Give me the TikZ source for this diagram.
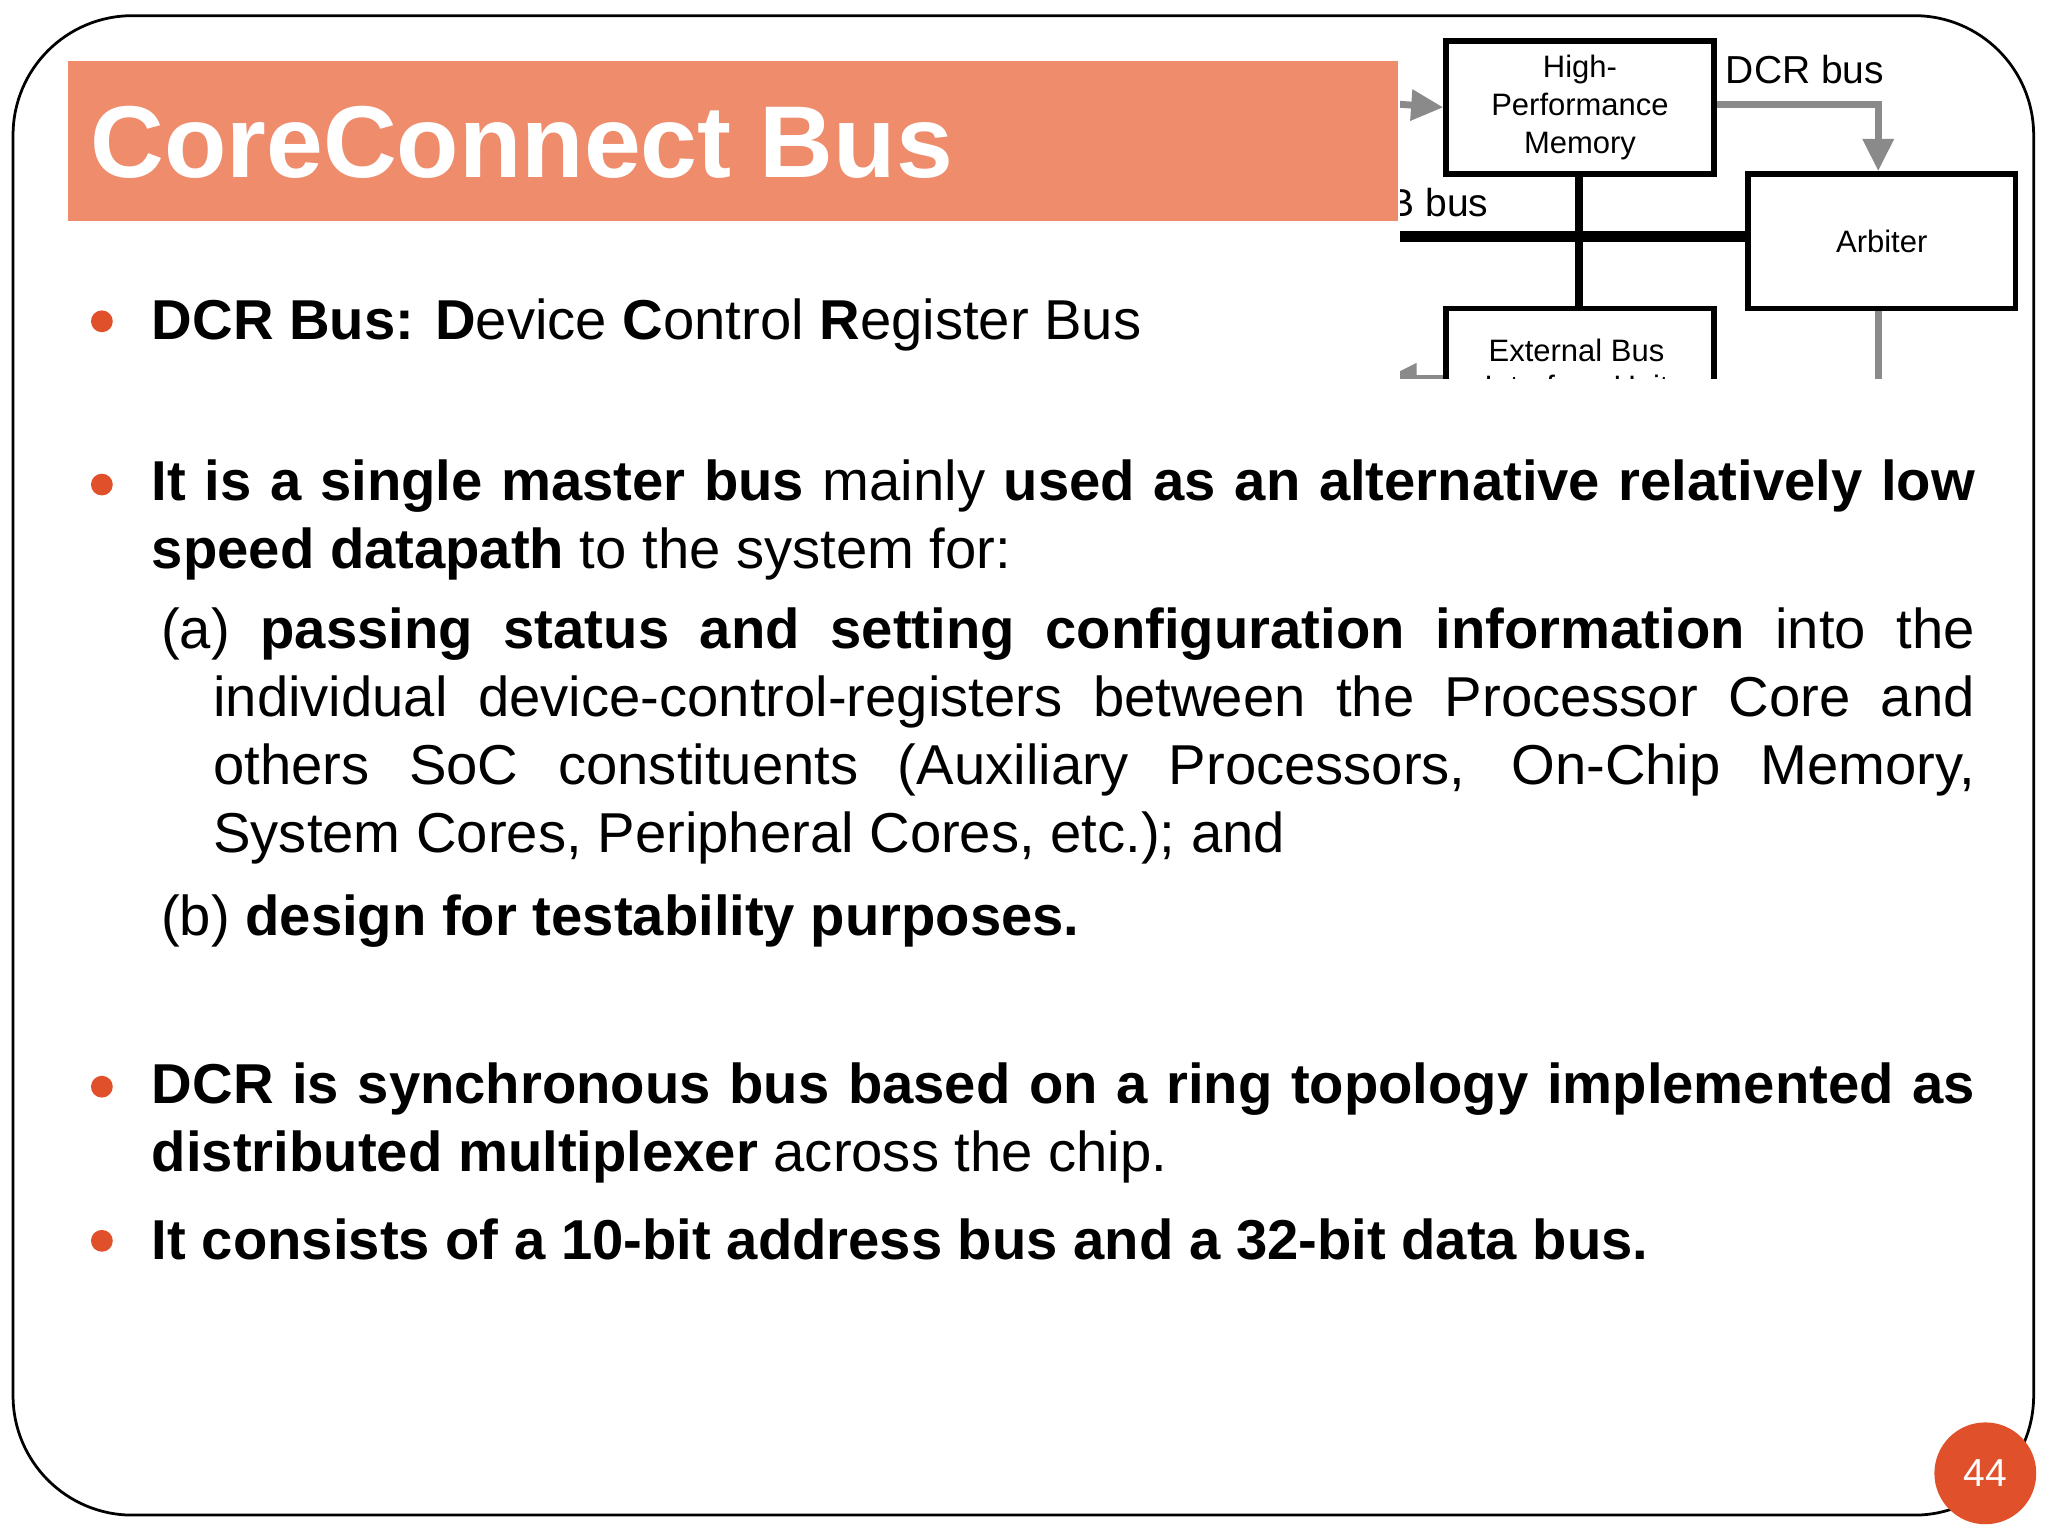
\documentclass[tikz,border=0pt]{standalone}
\usepackage{fontspec}
\usetikzlibrary{arrows.meta}
\setmainfont{Liberation Sans}
\definecolor{ttl}{HTML}{EE8C6C}
\definecolor{bul}{HTML}{E0502A}
\definecolor{gr}{HTML}{8A8A8A}
\tikzset{
  para/.style={anchor=north west,inner sep=0pt,align=justify,font=\fontsize{24.5}{29.6}\selectfont},
  blt/.style={fill=bul,circle,inner sep=0pt,minimum size=9.5pt},
  dbox/.style={draw=black,line width=2.5pt,inner sep=0pt,align=center,font=\fontsize{13.5}{16.5}\selectfont},
}
\begin{document}
\hyphenpenalty=10000 \exhyphenpenalty=10000
\begin{tikzpicture}[x=0.02cm,y=-0.02cm]
\useasboundingbox (0,0) rectangle (1568,1176);
\fill[white] (0,0) rectangle (1568,1176);
\draw[line width=1.2pt,rounded corners=52pt] (10,12) rectangle (1557,1160);
% diagram
\begin{scope}
\clip (1072,25) rectangle (1548,290);
\node[dbox,minimum width=4.1cm,minimum height=2.04cm,anchor=north west] (hpm) at (1105,29) {High-\\Performance\\Memory};
\node[dbox,minimum width=4.1cm,minimum height=2.06cm,anchor=north west] (arb) at (1336,131) {Arbiter};
\node[dbox,minimum width=4.1cm,minimum height=2.6cm,anchor=north west,align=center] (ext) at (1105,234) {};
\node[font=\fontsize{13.5}{16.5}\selectfont,anchor=base] (extt) at (1207,277) {External Bus};
\node[font=\fontsize{13.5}{16.5}\selectfont,anchor=base] (extt2) at (1207,304) {Interface Unit};
\node[font=\fontsize{17}{20}\selectfont,anchor=base west,inner sep=0pt] (dcr) at (1321,64) {DCR bus};
\node[font=\fontsize{17}{20}\selectfont,anchor=base east,inner sep=0pt] (plb) at (1140,166) {PLB bus};
\coordinate (l1) at (1060,181);
\coordinate (c1) at (1209,181);
\draw[line width=4.5pt] (l1) -- (arb.west|-l1);
\draw[line width=3.5pt] (hpm.south-|c1) -- (ext.north-|c1);
\coordinate (ga) at (1060,79);
\draw[gr,line width=3pt,-{Triangle[length=14pt,width=13pt]}] (ga) -- (hpm.west);
\coordinate (g1) at (1438,80);
\draw[gr,line width=3pt,-{Triangle[length=14pt,width=13pt]}] (hpm.east|-g1) -- (g1) -- (arb.north-|g1);
\coordinate (g2) at (1438,300);
\draw[gr,line width=3pt] (arb.south-|g2) -- (g2);
\coordinate (g3) at (1105,290);
\coordinate (g4) at (1060,290);
\draw[gr,line width=3pt,-{Triangle[length=14pt,width=13pt]}] (g3) -- (g4);
\end{scope}
% title
\fill[ttl] (52,47) rectangle (1070,169);
\node[anchor=base west,inner sep=0pt,text=white,font=\fontsize{44.5}{50}\selectfont\bfseries] (title) at (69,136) {CoreConnect Bus};
% bullets
\node[blt] (b1) at (78,246) {};
\node[para,anchor=base west,align=left] (p1) at (116,260) {\textbf{DCR Bus: D}evice \textbf{C}ontrol \textbf{R}egister Bus};
\node[blt] (b2) at (78,371) {};
\node[para,text width=27.92cm] (p2) at (116,352) {\textbf{It is a single master bus} mainly \textbf{used as an alternative relatively low speed datapath} to the system for:};
\node[para,text width=27.78cm] (pa) at (123,465) {\hangindent=0.8cm\hangafter=1 (a) \textbf{passing status and setting configuration information} into the individual device-control-registers between the Processor Core and others SoC constituents (Auxiliary Processors, On-Chip Memory, System Cores, Peripheral Cores, etc.); and\par};
\node[para,anchor=base west,align=left] (pb) at (123,716) {(b) \textbf{design for testability purposes.}};
\node[blt] (b3) at (78,832) {};
\node[para,text width=27.92cm] (p3) at (116,813) {\textbf{DCR is synchronous bus based on a ring topology implemented as distributed multiplexer} across the chip.};
\node[blt] (b4) at (78,950) {};
\node[para,anchor=base west,align=left] (p4) at (116,964) {\textbf{It consists of a 10-bit address bus and a 32-bit data bus.}};
% page number
\node[circle,fill=bul,minimum size=1.56cm,inner sep=0pt,text=white,font=\fontsize{17}{20}\selectfont] (pg) at (1520,1128) {44};
\end{tikzpicture}
\end{document}
